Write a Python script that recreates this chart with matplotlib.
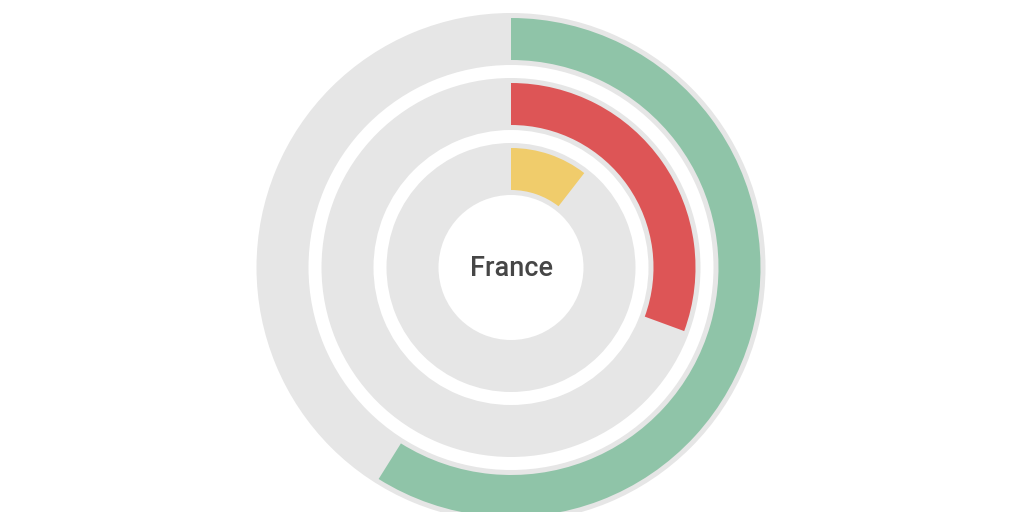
import numpy as np
import matplotlib
matplotlib.use("Agg")
import matplotlib.pyplot as plt

# Data (inner ring -> outer ring)
rings = ["inner", "middle", "outer"]
values = [10.5, 30.6, 58.9]
max_value = 100.0
colors = ["#f0cc6b", "#dd5556", "#8fc4a8"]
center_label = "France"

W, H, DPI = 1024, 512, 100
fig = plt.figure(figsize=(W / DPI, H / DPI), dpi=DPI)
fig.patch.set_facecolor("white")

cx, cy = 511, 267.5          # centre in pixels (from top)
rmax = 261.0                 # outer radius of axis in pixels
ax = fig.add_axes([(cx - rmax) / W, (H - cy - rmax) / H, 2 * rmax / W, 2 * rmax / H],
                  projection="polar")
ax.set_theta_zero_location("N")
ax.set_theta_direction(-1)
ax.set_ylim(0, rmax)
ax.set_axis_off()
ax.patch.set_alpha(0)

r0 = 66.0       # start of first band
band = 65.0     # band pitch
bg_w = 52.0
bar_w = 42.0

for i, (v, c) in enumerate(zip(values, colors)):
    base = r0 + band * i
    # background track
    ax.bar(0, bg_w, width=2 * np.pi, bottom=base + (band - bg_w) / 2,
           align="edge", color="#e6e6e6", edgecolor="none", linewidth=0)
    # value bar
    ax.bar(0, bar_w, width=2 * np.pi * v / max_value, bottom=base + (band - bar_w) / 2,
           align="edge", color=c, edgecolor="none", linewidth=0)

fig.text(cx / W, 1 - 268.5 / H, center_label, ha="center", va="center",
         fontsize=19.5, fontweight="medium", color="#464646",
         family=["Roboto", "DejaVu Sans"])

fig.savefig("out.png", dpi=DPI)
